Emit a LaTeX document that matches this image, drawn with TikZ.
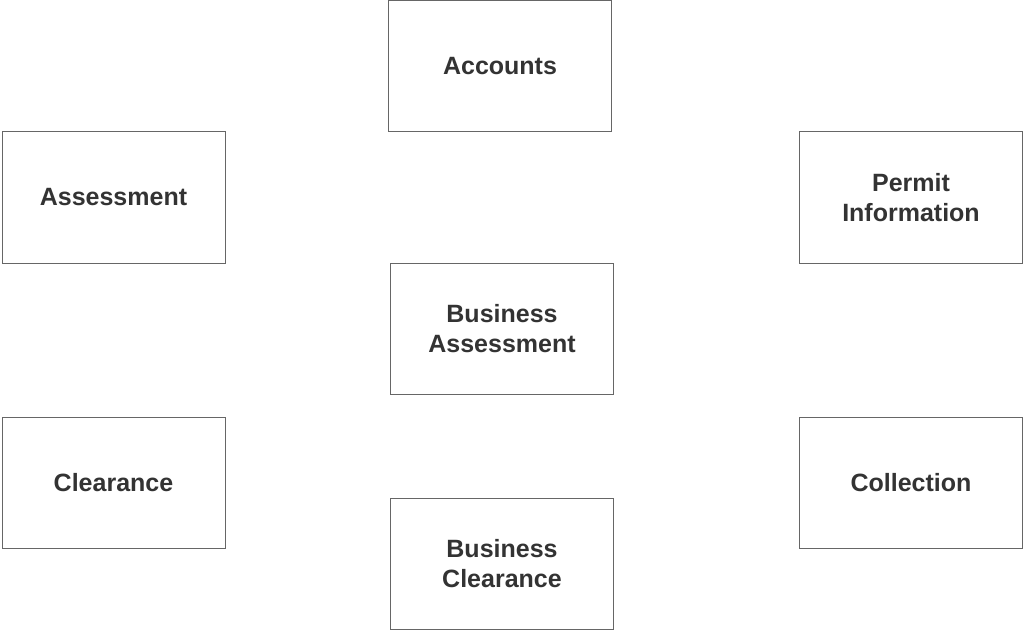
\documentclass[tikz,border=0pt]{standalone}
\usepackage{fontspec}
\setmainfont{Liberation Sans}
\usetikzlibrary{positioning}

\definecolor{boxline}{HTML}{666666}
\definecolor{boxtext}{HTML}{333333}

\tikzset{
  entitybox/.style = {draw = boxline, line width = 1pt, fill = white,
    minimum width = 223pt, minimum height = 131pt, inner sep = 0pt,
    align = center, text = boxtext,
    font = \fontsize{25pt}{30pt}\selectfont\bfseries}
}

\begin{document}
\begin{tikzpicture}[x = 1pt, y = 1pt]
  \useasboundingbox[fill = white] (0,0) rectangle (1024,630);
  \node[entitybox] (accounts) at (500,563.5) {Accounts};
  \node[entitybox] (assessment) at (113.5,432.5) {Assessment};
  \node[entitybox] (permit) at (911,432.5) {Permit\\Information};
  \node[entitybox] (busassess) at (502,301.5) {Business\\Assessment};
  \node[entitybox] (clearance) at (113.5,147.5) {Clearance};
  \node[entitybox] (collection) at (911,147.5) {Collection};
  \node[entitybox] (busclear) at (502,66.5) {Business\\Clearance};
\end{tikzpicture}
\end{document}
